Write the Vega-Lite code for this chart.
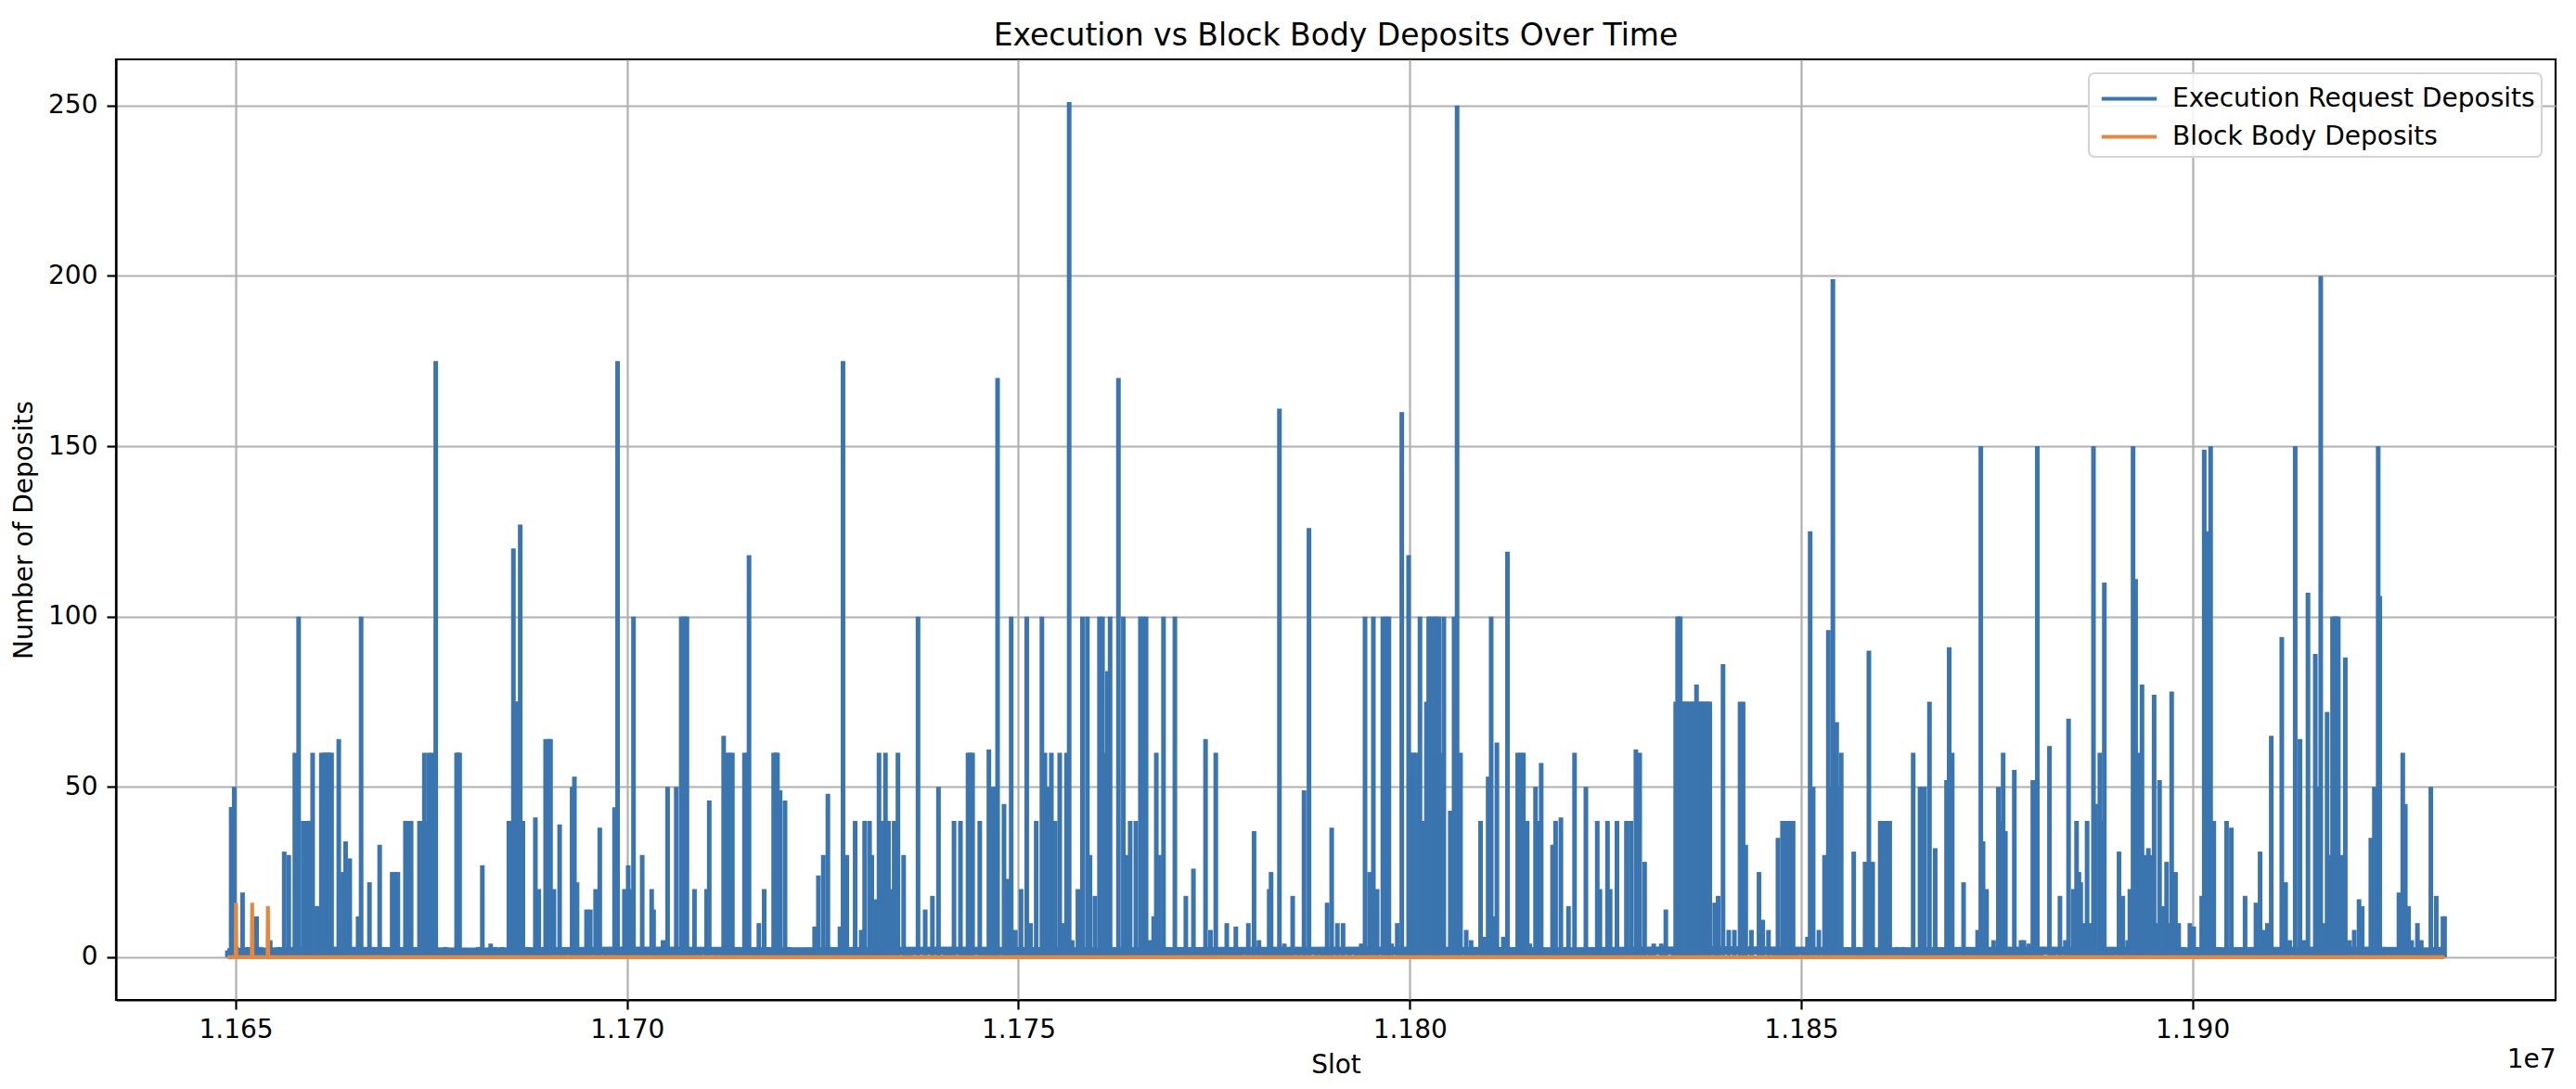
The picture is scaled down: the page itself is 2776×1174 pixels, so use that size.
{
  "$schema": "https://vega.github.io/schema/vega-lite/v6.json",
  "width": 2776,
  "height": 1174,
  "autosize": {"type": "fit", "contains": "padding"},
  "padding": {"left": 12, "top": 23, "right": 22, "bottom": 12},
  "background": "white",
  "title": {
    "text": "Execution vs Block Body Deposits Over Time",
    "fontSize": 33,
    "fontWeight": "normal",
    "font": "DejaVu Sans",
    "color": "black",
    "offset": 8
  },
  "datasets": {
    "base": [
      {"s": 11648935, "v": 1.4}, {"s": 11660000, "v": 1.9}, {"s": 11680000, "v": 1.6}, {"s": 11700000, "v": 1.9},
      {"s": 11720000, "v": 1.7}, {"s": 11740000, "v": 1.9}, {"s": 11760000, "v": 1.7}, {"s": 11780000, "v": 1.8},
      {"s": 11800000, "v": 1.9}, {"s": 11820000, "v": 1.7}, {"s": 11840000, "v": 2}, {"s": 11860000, "v": 1.7},
      {"s": 11880000, "v": 1.9}, {"s": 11900000, "v": 1.7}, {"s": 11920000, "v": 1.9}, {"s": 11932216, "v": 1.6}
    ],
    "erd": [
      {"s":11648935,"v":2},{"s":11649419,"v":44},{"s":11649516,"v":44},{"s":11649806,"v":50},{"s":11650145,"v":3},
      {"s":11650871,"v":19},{"s":11651500,"v":3},{"s":11652662,"v":12},{"s":11653200,"v":3},{"s":11653700,"v":2},
      {"s":11654404,"v":5},{"s":11655000,"v":2},{"s":11655500,"v":3},{"s":11656195,"v":31},{"s":11656776,"v":30},
      {"s":11657100,"v":3},{"s":11657550,"v":60},{"s":11657800,"v":20},{"s":11658034,"v":100},{"s":11658615,"v":40},
      {"s":11658900,"v":40},{"s":11659170,"v":40},{"s":11659438,"v":40},{"s":11659825,"v":60},{"s":11660200,"v":15},
      {"s":11660551,"v":15},{"s":11660938,"v":60},{"s":11661277,"v":60},{"s":11661500,"v":60},{"s":11661761,"v":60},
      {"s":11662000,"v":60},{"s":11662245,"v":60},{"s":11662600,"v":3},{"s":11663165,"v":64},{"s":11663697,"v":25},
      {"s":11664036,"v":34},{"s":11664300,"v":20},{"s":11664568,"v":29},{"s":11665000,"v":3},{"s":11665633,"v":12},
      {"s":11666020,"v":100},{"s":11666500,"v":3},{"s":11667085,"v":22},{"s":11667500,"v":3},{"s":11668392,"v":33},
      {"s":11669200,"v":2},{"s":11669989,"v":25},{"s":11670300,"v":25},{"s":11670715,"v":25},{"s":11671200,"v":3},
      {"s":11671683,"v":40},{"s":11671950,"v":40},{"s":11672200,"v":40},{"s":11672409,"v":40},{"s":11673000,"v":3},
      {"s":11673474,"v":40},{"s":11673800,"v":40},{"s":11674103,"v":60},{"s":11674400,"v":40},{"s":11674684,"v":60},
      {"s":11675071,"v":60},{"s":11675555,"v":175},{"s":11676000,"v":2},{"s":11676765,"v":3},{"s":11677500,"v":2},
      {"s":11678217,"v":60},{"s":11678400,"v":60},{"s":11678604,"v":60},{"s":11679300,"v":2},{"s":11680200,"v":2},
      {"s":11681000,"v":3},{"s":11681508,"v":27},{"s":11682000,"v":2},{"s":11682573,"v":4},{"s":11683200,"v":3},
      {"s":11684000,"v":3},{"s":11684896,"v":40},{"s":11685200,"v":40},{"s":11685477,"v":120},{"s":11685700,"v":75},
      {"s":11685816,"v":75},{"s":11686100,"v":75},{"s":11686348,"v":127},{"s":11686687,"v":40},{"s":11687300,"v":3},
      {"s":11688284,"v":41},{"s":11688720,"v":20},{"s":11689100,"v":3},{"s":11689591,"v":64},{"s":11689800,"v":40},
      {"s":11690000,"v":64},{"s":11690220,"v":64},{"s":11690656,"v":20},{"s":11691382,"v":39},{"s":11692000,"v":2},
      {"s":11692979,"v":50},{"s":11693270,"v":53},{"s":11693608,"v":22},{"s":11694200,"v":2},{"s":11694818,"v":14},
      {"s":11695302,"v":14},{"s":11695980,"v":20},{"s":11696512,"v":38},{"s":11697200,"v":3},{"s":11697800,"v":3},
      {"s":11698400,"v":44},{"s":11698787,"v":175},{"s":11699200,"v":3},{"s":11699658,"v":20},{"s":11700142,"v":27},
      {"s":11700500,"v":20},{"s":11700820,"v":100},{"s":11701400,"v":3},{"s":11701933,"v":30},{"s":11702500,"v":3},
      {"s":11703143,"v":20},{"s":11703385,"v":14},{"s":11704000,"v":3},{"s":11704595,"v":5},{"s":11705176,"v":50},
      {"s":11705700,"v":3},{"s":11706289,"v":50},{"s":11706918,"v":100},{"s":11707200,"v":100},{"s":11707450,"v":100},
      {"s":11707644,"v":100},{"s":11708000,"v":3},{"s":11708612,"v":20},{"s":11709300,"v":3},{"s":11710161,"v":20},
      {"s":11710500,"v":46},{"s":11711274,"v":3},{"s":11711800,"v":3},{"s":11712339,"v":65},{"s":11712726,"v":60},
      {"s":11713100,"v":60},{"s":11713452,"v":60},{"s":11714200,"v":3},{"s":11715001,"v":60},{"s":11715340,"v":60},
      {"s":11715582,"v":118},{"s":11716200,"v":3},{"s":11716840,"v":10},{"s":11717518,"v":20},{"s":11718100,"v":3},
      {"s":11718728,"v":60},{"s":11719000,"v":60},{"s":11719212,"v":60},{"s":11719551,"v":49},{"s":11720180,"v":46},
      {"s":11720700,"v":3},{"s":11721293,"v":2},
      {"s":11722300,"v":2},{"s":11723000,"v":2},{"s":11723961,"v":9},{"s":11724445,"v":24},{"s":11725074,"v":30},
      {"s":11725655,"v":48},{"s":11726200,"v":3},{"s":11727204,"v":9},{"s":11727591,"v":175},{"s":11728075,"v":30},
      {"s":11728801,"v":3},{"s":11729140,"v":40},{"s":11729914,"v":8},{"s":11730350,"v":40},{"s":11730979,"v":40},
      {"s":11731269,"v":30},{"s":11731705,"v":17},{"s":11732189,"v":60},{"s":11732527,"v":40},{"s":11733012,"v":60},
      {"s":11733399,"v":40},{"s":11733800,"v":20},{"s":11734125,"v":40},{"s":11734609,"v":60},{"s":11735335,"v":30},
      {"s":11735800,"v":3},{"s":11736303,"v":2},{"s":11737174,"v":100},{"s":11738094,"v":14},{"s":11739013,"v":18},
      {"s":11739788,"v":50},{"s":11740659,"v":2},{"s":11741200,"v":2},{"s":11741772,"v":40},{"s":11742595,"v":40},
      {"s":11743000,"v":3},{"s":11743563,"v":60},{"s":11743850,"v":60},{"s":11744144,"v":60},{"s":11745063,"v":40},
      {"s":11745600,"v":3},{"s":11746225,"v":61},{"s":11746709,"v":50},{"s":11747000,"v":50},{"s":11747338,"v":170},
      {"s":11748161,"v":45},{"s":11748645,"v":23},{"s":11749080,"v":100},{"s":11749613,"v":8},{"s":11750339,"v":20},
      {"s":11751065,"v":100},{"s":11751549,"v":10},{"s":11752275,"v":40},{"s":11753001,"v":100},{"s":11753388,"v":60},
      {"s":11753727,"v":50},{"s":11754211,"v":60},{"s":11754695,"v":40},{"s":11755276,"v":60},{"s":11755700,"v":10},
      {"s":11756147,"v":60},{"s":11756486,"v":251},{"s":11756873,"v":5},{"s":11757599,"v":20},{"s":11758180,"v":100},
      {"s":11758809,"v":100},{"s":11759148,"v":30},{"s":11759777,"v":18},{"s":11760358,"v":100},{"s":11760745,"v":100},
      {"s":11761000,"v":60},{"s":11761374,"v":84},{"s":11761713,"v":100},{"s":11762148,"v":3},{"s":11762778,"v":170},
      {"s":11763407,"v":100},{"s":11763891,"v":30},{"s":11764278,"v":40},{"s":11765004,"v":40},{"s":11765585,"v":100},
      {"s":11765924,"v":100},{"s":11766311,"v":100},{"s":11766800,"v":5},{"s":11767279,"v":12},{"s":11767618,"v":60},
      {"s":11768005,"v":30},{"s":11768537,"v":100},{"s":11768973,"v":3},{"s":11769989,"v":100},{"s":11770700,"v":3},
      {"s":11771393,"v":18},{"s":11772361,"v":26},{"s":11773087,"v":1},{"s":11773910,"v":64},{"s":11774539,"v":8},
      {"s":11775216,"v":60},{"s":11776000,"v":3},{"s":11776620,"v":10},{"s":11777200,"v":2},{"s":11777782,"v":9},
      {"s":11778411,"v":2},{"s":11779379,"v":10},{"s":11780105,"v":37},{"s":11780734,"v":5},{"s":11781400,"v":2},
      {"s":11782041,"v":20},{"s":11782283,"v":25},{"s":11782800,"v":3},{"s":11783348,"v":161},{"s":11783977,"v":4},
      {"s":11784500,"v":2},{"s":11785042,"v":18},{"s":11785768,"v":3},{"s":11786494,"v":49},{"s":11787123,"v":126},
      {"s":11788091,"v":2},{"s":11788800,"v":3},{"s":11789446,"v":16},{"s":11790027,"v":38},{"s":11790753,"v":10},
      {"s":11791479,"v":10},{"s":11792300,"v":3},{"s":11793173,"v":3},{"s":11793800,"v":4},{"s":11794286,"v":100},
      {"s":11794867,"v":25},{"s":11795351,"v":100},{"s":11795835,"v":20},{"s":11796561,"v":100},{"s":11796951,"v":100},
      {"s":11797338,"v":100},
      {"s":11797677,"v":4},{"s":11798403,"v":10},{"s":11798984,"v":160},{"s":11799371,"v":2},{"s":11799855,"v":118},
      {"s":11800194,"v":60},{"s":11800500,"v":60},{"s":11800823,"v":60},{"s":11801307,"v":100},{"s":11801646,"v":40},
      {"s":11802130,"v":75},{"s":11802420,"v":100},{"s":11802700,"v":100},{"s":11803049,"v":100},{"s":11803400,"v":100},
      {"s":11803727,"v":100},{"s":11803969,"v":60},{"s":11804356,"v":100},{"s":11804792,"v":1},{"s":11805179,"v":43},
      {"s":11805663,"v":100},{"s":11806050,"v":250},{"s":11806486,"v":60},{"s":11807212,"v":8},{"s":11807841,"v":5},
      {"s":11808325,"v":3},{"s":11809051,"v":40},{"s":11809535,"v":6},{"s":11810019,"v":53},{"s":11810406,"v":100},
      {"s":11810842,"v":12},{"s":11811132,"v":63},{"s":11811955,"v":6},{"s":11812487,"v":119},{"s":11813020,"v":3},
      {"s":11813794,"v":60},{"s":11814181,"v":60},{"s":11814520,"v":60},{"s":11815004,"v":40},{"s":11815343,"v":4},
      {"s":11816069,"v":50},{"s":11816408,"v":40},{"s":11816795,"v":57},{"s":11817376,"v":2},{"s":11818247,"v":33},
      {"s":11818634,"v":40},{"s":11819312,"v":41},{"s":11819800,"v":3},{"s":11820280,"v":15},{"s":11821054,"v":60},
      {"s":11821635,"v":2},{"s":11822506,"v":50},{"s":11823087,"v":3},{"s":11823958,"v":40},{"s":11824297,"v":20},
      {"s":11824800,"v":3},{"s":11825265,"v":40},{"s":11825604,"v":20},{"s":11826000,"v":3},{"s":11826475,"v":40},
      {"s":11827100,"v":3},{"s":11827685,"v":40},{"s":11828266,"v":40},{"s":11828895,"v":61},{"s":11829379,"v":60},
      {"s":11830008,"v":28},{"s":11830686,"v":3},{"s":11831170,"v":4},{"s":11832138,"v":4},{"s":11832718,"v":14},
      {"s":11833638,"v":2},{"s":11833977,"v":75},{"s":11834219,"v":100},{"s":11834400,"v":100},{"s":11834558,"v":100},
      {"s":11834800,"v":75},{"s":11835000,"v":75},{"s":11835187,"v":75},{"s":11835400,"v":75},{"s":11835650,"v":75},
      {"s":11835913,"v":75},{"s":11836150,"v":75},{"s":11836400,"v":75},{"s":11836639,"v":80},{"s":11836900,"v":75},
      {"s":11837150,"v":75},{"s":11837365,"v":75},{"s":11837600,"v":75},{"s":11837850,"v":75},{"s":11838100,"v":75},
      {"s":11838333,"v":75},{"s":11838962,"v":16},{"s":11839398,"v":18},{"s":11840027,"v":86},{"s":11840753,"v":8},
      {"s":11841479,"v":8},{"s":11842205,"v":75},{"s":11842592,"v":75},{"s":11842931,"v":33},{"s":11843657,"v":8},
      {"s":11844625,"v":25},{"s":11845109,"v":11},{"s":11845835,"v":8},{"s":11846500,"v":3},{"s":11847045,"v":35},
      {"s":11847626,"v":40},{"s":11847900,"v":40},{"s":11848255,"v":40},{"s":11848600,"v":40},{"s":11848981,"v":40},
      {"s":11849465,"v":3},{"s":11850191,"v":3},{"s":11850820,"v":6},{"s":11851159,"v":125},{"s":11851546,"v":50},
      {"s":11852272,"v":8},{"s":11852998,"v":30},{"s":11853482,"v":96},{"s":11853700,"v":50},{"s":11854063,"v":199},
      {"s":11854547,"v":69},{"s":11854800,"v":50},{"s":11855128,"v":60},{"s":11855757,"v":3},{"s":11856725,"v":31},
      {"s":11857451,"v":3},{"s":11858177,"v":28},{"s":11858661,"v":90},{"s":11859145,"v":28},{"s":11860113,"v":40},
      {"s":11860400,"v":40},{"s":11860742,"v":40},{"s":11861000,"v":40},{"s":11861323,"v":40},{"s":11862291,"v":3},
      {"s":11863017,"v":3},{"s":11863743,"v":2},{"s":11864324,"v":60},{"s":11865195,"v":50},{"s":11865500,"v":50},
      {"s":11865776,"v":50},{"s":11866405,"v":75},{"s":11867131,"v":32},{"s":11868099,"v":2},{"s":11868583,"v":52},
      {"s":11868922,"v":91},{"s":11869309,"v":60},{"s":11870035,"v":3},{"s":11870761,"v":22},{"s":11871487,"v":3},
      {"s":11871944,"v":2},{"s":11872555,"v":8},{"s":11872963,"v":150},{"s":11873248,"v":34},{"s":11873697,"v":20},
      {"s":11874186,"v":2},{"s":11874594,"v":5},{"s":11875206,"v":50},{"s":11875500,"v":40},{"s":11875818,"v":60},
      {"s":11876103,"v":37},{"s":11876633,"v":3},{"s":11877245,"v":55},{"s":11877653,"v":3},{"s":11878100,"v":5},
      {"s":11878468,"v":5},{"s":11879080,"v":4},{"s":11879610,"v":52},{"s":11879900,"v":30},{"s":11880181,"v":150},
      {"s":11880711,"v":3},{"s":11881731,"v":62},{"s":11882342,"v":2},{"s":11883076,"v":18},{"s":11883770,"v":5},
      {"s":11884177,"v":70},{"s":11884789,"v":20},{"s":11885197,"v":40},{"s":11885500,"v":25},{"s":11885727,"v":22},
      {"s":11886135,"v":10},{"s":11886543,"v":40},{"s":11886828,"v":10},{"s":11887358,"v":150},{"s":11887643,"v":45},
      {"s":11888174,"v":60},{"s":11888459,"v":40},{"s":11888745,"v":110},{"s":11889275,"v":3},{"s":11889887,"v":3},
      {"s":11890621,"v":31},{"s":11891110,"v":18},{"s":11891722,"v":5},{"s":11892007,"v":20},{"s":11892415,"v":150},
      {"s":11892741,"v":111},{"s":11893067,"v":60},{"s":11893300,"v":40},{"s":11893557,"v":80},{"s":11893965,"v":30},
      {"s":11894372,"v":32},{"s":11894699,"v":30},{"s":11895106,"v":77},{"s":11895473,"v":10},{"s":11895800,"v":52},
      {"s":11896207,"v":15},{"s":11896697,"v":28},{"s":11897023,"v":10},{"s":11897349,"v":78},{"s":11897839,"v":25},
      {"s":11898246,"v":10},{"s":11898858,"v":3},{"s":11899674,"v":10},{"s":11900163,"v":9},{"s":11900693,"v":3},
      {"s":11901183,"v":18},{"s":11901509,"v":149},{"s":11901794,"v":125},{"s":11902324,"v":150},{"s":11902732,"v":40},
      {"s":11903344,"v":3},{"s":11904363,"v":40},{"s":11904975,"v":38},{"s":11905587,"v":3},{"s":11906199,"v":2},
      {"s":11906729,"v":18},{"s":11907422,"v":3},{"s":11908115,"v":16},{"s":11908645,"v":31},{"s":11909135,"v":8},
      {"s":11909583,"v":10},{"s":11910073,"v":65},{"s":11910684,"v":3},{"s":11911418,"v":94},{"s":11911908,"v":22},
      {"s":11912438,"v":5},{"s":11913131,"v":150},{"s":11913743,"v":64},{"s":11914273,"v":5},{"s":11914763,"v":107},
      {"s":11915170,"v":3},{"s":11915700,"v":89},{"s":11916108,"v":50},{"s":11916394,"v":200},{"s":11916802,"v":10},
      {"s":11917209,"v":72},{"s":11917617,"v":30},{"s":11917903,"v":100},{"s":11918100,"v":100},{"s":11918270,"v":100},
      {"s":11918450,"v":100},{"s":11918637,"v":100},{"s":11919045,"v":30},{"s":11919534,"v":88},{"s":11920064,"v":5},
      {"s":11920675,"v":8},{"s":11921287,"v":17},{"s":11921695,"v":15},{"s":11922307,"v":3},{"s":11922796,"v":35},
      {"s":11923245,"v":50},{"s":11923734,"v":150},{"s":11923938,"v":106},{"s":11924550,"v":3},{"s":11925366,"v":3},
      {"s":11925896,"v":3},{"s":11926385,"v":19},{"s":11926875,"v":60},{"s":11927201,"v":45},{"s":11927608,"v":15},
      {"s":11928016,"v":5},{"s":11928750,"v":10},{"s":11929239,"v":5},{"s":11929851,"v":2},{"s":11930463,"v":50},
      {"s":11930871,"v":3},{"s":11931156,"v":18},{"s":11931482,"v":3},{"s":11932012,"v":12},{"s":11932216,"v":12}
    ],
    "bbd": [
      {"s": 11648935, "v": 0}, {"s": 11649990, "v": 0}, {"s": 11650036, "v": 16}, {"s": 11650082, "v": 0},
      {"s": 11652050, "v": 0}, {"s": 11652097, "v": 16}, {"s": 11652144, "v": 0}, {"s": 11654064, "v": 0},
      {"s": 11654110, "v": 15}, {"s": 11654156, "v": 0}, {"s": 11932216, "v": 0}
    ]
  },
  "resolve": {"axis": {"x": "independent"}},
  "layer": [
    {
      "data": {"name": "base"},
      "mark": {"type": "line", "strokeWidth": 9},
      "encoding": {
        "x": {
          "field": "s", "type": "quantitative",
          "scale": {"domain": [11634700, 11946400], "nice": false, "zero": false},
          "axis": {
            "title": "Slot",
            "values": [11650000, 11700000, 11750000, 11800000, 11850000, 11900000],
            "labelExpr": "format(datum.value / 10000000, '.3f')",
            "titlePadding": 10
          }
        },
        "y": {
          "field": "v", "type": "quantitative",
          "scale": {"domain": [-12.55, 263.55], "nice": false, "zero": false},
          "axis": {"title": "Number of Deposits", "values": [0, 50, 100, 150, 200, 250], "labelPadding": 10, "titlePadding": 11}
        },
        "color": {
          "datum": "Execution Request Deposits",
          "type": "nominal",
          "scale": {"domain": ["Execution Request Deposits", "Block Body Deposits"], "range": ["#3b75af", "#e6873e"]},
          "legend": {"title": null}
        }
      }
    },
    {
      "data": {"name": "erd"},
      "mark": {"type": "rule", "strokeWidth": 5},
      "encoding": {
        "x": {"field": "s", "type": "quantitative", "axis": null},
        "y": {"field": "v", "type": "quantitative", "title": "Number of Deposits"},
        "y2": {"datum": 0},
        "color": {"datum": "Execution Request Deposits", "type": "nominal"}
      }
    },
    {
      "data": {"name": "bbd"},
      "mark": {"type": "line", "strokeWidth": 4.2},
      "encoding": {
        "x": {
          "field": "s", "type": "quantitative",
          "axis": {
            "orient": "bottom", "title": "1e7", "labels": false, "ticks": false, "domain": false, "grid": false,
            "titleAnchor": "end", "titleAlign": "right", "titlePadding": 50
          }
        },
        "y": {"field": "v", "type": "quantitative", "title": "Number of Deposits"},
        "color": {"datum": "Block Body Deposits", "type": "nominal"}
      }
    }
  ],
  "config": {
    "font": "DejaVu Sans",
    "view": {"stroke": "black", "strokeWidth": 2.2},
    "axis": {
      "labelFont": "DejaVu Sans", "labelFontSize": 28, "labelColor": "black",
      "titleFont": "DejaVu Sans", "titleFontSize": 28, "titleFontWeight": "normal", "titleColor": "black",
      "tickColor": "black", "tickWidth": 2.2, "tickSize": 10,
      "domainColor": "black", "domainWidth": 2.2,
      "gridColor": "#b0b0b0", "gridWidth": 2.2,
      "labelPadding": 8
    },
    "legend": {
      "orient": "top-right", "offset": 15, "padding": 7,
      "strokeColor": "#d4d4d4", "strokeWidth": 2, "fillColor": "rgba(255,255,255,0.85)", "cornerRadius": 6,
      "labelFont": "DejaVu Sans", "labelFontSize": 28, "labelColor": "black", "labelLimit": 0, "labelOffset": 26,
      "symbolType": "M-1.65,0H1.65", "symbolSize": 1296, "symbolStrokeWidth": 4.2, "symbolOffset": 16, "rowPadding": 6
    }
  }
}
